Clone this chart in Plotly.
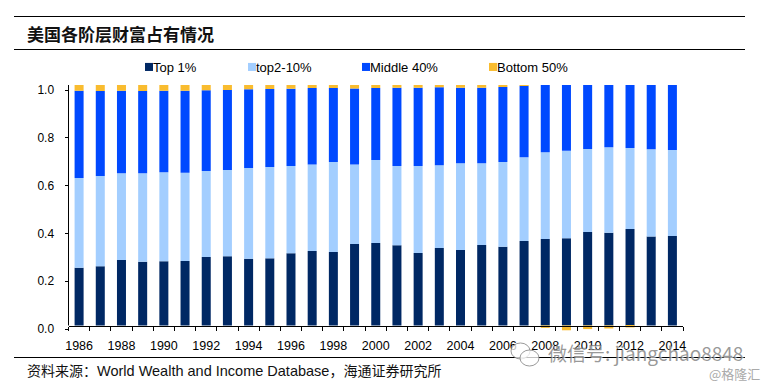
import plotly.graph_objects as go

years = list(range(1986, 2015))
top1 = [0.242,0.248,0.274,0.267,0.269,0.270,0.287,0.290,0.279,0.281,0.302,0.312,0.308,0.341,0.345,0.336,0.303,0.324,0.316,0.337,0.330,0.354,0.362,0.365,0.391,0.388,0.404,0.372,0.374]
top2_10 = [0.375,0.378,0.363,0.370,0.372,0.369,0.359,0.361,0.380,0.382,0.365,0.362,0.376,0.333,0.347,0.331,0.364,0.346,0.363,0.342,0.354,0.350,0.363,0.366,0.347,0.358,0.339,0.365,0.360]
middle = [0.365,0.355,0.345,0.344,0.341,0.343,0.338,0.334,0.329,0.327,0.324,0.320,0.310,0.318,0.302,0.328,0.328,0.327,0.316,0.316,0.314,0.299,0.281,0.275,0.268,0.260,0.263,0.269,0.272]
bottom = [0.024,0.025,0.024,0.025,0.024,0.024,0.022,0.021,0.018,0.016,0.015,0.012,0.012,0.014,0.012,0.011,0.011,0.009,0.011,0.011,0.008,0.003,-0.010,-0.020,-0.015,-0.0125,-0.008,0.0,0.0]
colors = ["#002864", "#A3CEFF", "#0049FF", "#F9BC2F"]
names = ["Top 1%", "top2-10%", "Middle 40%", "Bottom 50%"]
series = [top1, top2_10, middle, bottom]
tick_labels = ["0.0", "0.2", "0.4", "0.6", "0.8", "1.0"]
tick_values = [0.0, 0.2, 0.4, 0.6, 0.8, 1.0]

W, H = 769, 387
px = lambda v: v / W
py = lambda v: 1 - v / H
fig = go.Figure()
legend_x = [113, 216, 330, 457]
for i, (n, c, s) in enumerate(zip(names, colors, series)):
    lg = "legend" if i == 0 else f"legend{i+1}"
    fig.add_bar(x=years, y=s, name=n, marker=dict(color=c, line=dict(width=0)), legend=lg, cliponaxis=False)
fig.add_scatter(x=[years[0]], y=[0], yaxis="y2", mode="markers", marker=dict(opacity=0), showlegend=False, hoverinfo="skip")

legends = {}
for i, lx in enumerate(legend_x):
    key = "legend" if i == 0 else f"legend{i+1}"
    legends[key] = dict(x=px(lx), y=py(67), xanchor="left", yanchor="middle", orientation="h",
                        font=dict(family="Liberation Sans", size=13, color="#000"), bgcolor="rgba(0,0,0,0)", itemwidth=30)

L, R, T, B = 68.5, 683, 85, 325.5
LOW = 332
wm = "rgba(120,120,120,0.75)"
fig.update_layout(
    width=W, height=H, autosize=False, showlegend=True, barmode="relative", bargap=0.575,
    paper_bgcolor="white", plot_bgcolor="white",
    margin=dict(l=0, r=0, t=0, b=0, autoexpand=False),
    xaxis=dict(domain=[px(L), px(R)], range=[1985.5, 2014.5], tickmode="array", tickvals=years[::2],
               ticks="", tickfont=dict(family="Liberation Sans", size=12.5, color="#000"),
               showgrid=False, zeroline=False, showline=True, linecolor="#000", linewidth=1,
               anchor="free", position=py(B), ticklabelstandoff=8,
               minor=dict(ticks="outside", ticklen=4, tickcolor="#000", tickwidth=1, dtick=1, tick0=1985.5, showgrid=False)),
    yaxis=dict(domain=[py(LOW), py(T)], range=[-(LOW - B) / 239, (B - T) / 239], showgrid=False, zeroline=False,
               showline=False, ticks="", showticklabels=False),
    yaxis2=dict(domain=[py(LOW), py(T)], range=[-(LOW - 329) / 239, (329 - T) / 239], overlaying="y", anchor="free", position=px(L),
                tickmode="array", tickvals=tick_values, ticktext=tick_labels, ticks="outside", ticklen=4,
                tickcolor="#000", showgrid=False, zeroline=False, showline=False, ticklabelstandoff=8,
                tickfont=dict(family="Liberation Sans", size=12, color="#000")),
    shapes=[dict(type="line", xref="paper", yref="paper", x0=px(14), x1=px(745), y0=py(y), y1=py(y),
                 line=dict(color="#000", width=1)) for y in (16.5, 49.5, 357.5)] + [
        dict(type="line", xref="paper", yref="paper", x0=px(L), x1=px(L), y0=py(T), y1=py(B), line=dict(color="#000", width=1))] + [
        dict(type="circle", xref="paper", yref="paper", x0=px(x0), x1=px(x1), y0=py(y0), y1=py(y1),
             line=dict(color=wm, width=1), fillcolor="rgba(255,255,255,0.75)")
        for x0, x1, y0, y1 in ((511, 530, 343, 359), (520, 539, 350, 366))],
    annotations=[
        dict(text="美国各阶层财富占有情况", x=px(25), y=py(33), xref="paper", yref="paper", xanchor="left", yanchor="middle",
             showarrow=False, font=dict(family="Noto Sans CJK SC", size=17, color="#111", weight="bold")),
        dict(text="资料来源：<span style='font-family:Liberation Sans;font-size:14.5px'>World Wealth and Income Database</span>，海通证券研究所",
             x=px(25), y=py(370), xref="paper", yref="paper", xanchor="left", yanchor="middle",
             showarrow=False, font=dict(family="Noto Sans CJK SC", size=14, color="#111")),
        dict(text="微信号: jiangchao8848", x=px(546), y=py(352), xref="paper", yref="paper", xanchor="left", yanchor="middle",
             showarrow=False, font=dict(family="Noto Sans CJK SC", size=19, color=wm, shadow="1px 1px 1px #fff")),
        dict(text="@格隆汇", x=px(707), y=py(373), xref="paper", yref="paper", xanchor="left", yanchor="middle",
             showarrow=False, font=dict(family="Noto Sans CJK SC", size=13, color="#aaa")),
    ],
    **legends,
)
post = """
document.body.style.margin='0';
document.querySelectorAll('.legendsymbols path').forEach(function(p){
  p.setAttribute('transform','translate(36,0) scale(0.67)');
});
"""
fig.write_html("out.html", post_script=post, config=dict(displayModeBar=False))
